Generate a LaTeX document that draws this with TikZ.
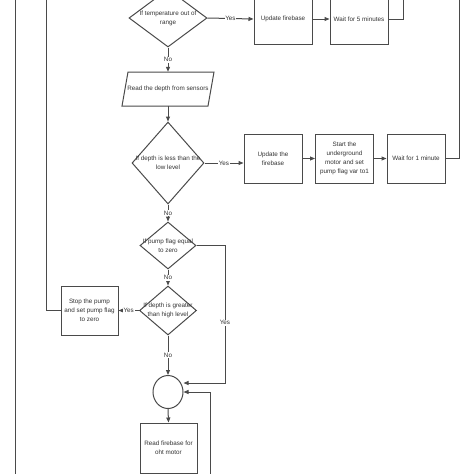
\documentclass[tikz,border=0pt]{standalone}
\usepackage{fontspec}
\setmainfont{Liberation Sans}
\usetikzlibrary{shapes.geometric,arrows.meta}
\definecolor{ln}{HTML}{4A4A4A}
\definecolor{tx}{HTML}{333333}
\tikzset{
  base/.style={draw=ln, line width=1pt, text=tx, font=\fontsize{6.3}{9.2}\selectfont, align=center, inner sep=0pt},
  boxn/.style={base, rectangle, minimum width=58pt, minimum height=49pt},
  dia/.style={base, diamond},
  circn/.style={base, ellipse, minimum width=30pt, minimum height=33pt},
  txt/.style={text=tx, font=\fontsize{6.3}{9.2}\selectfont, align=center, inner sep=0pt},
  lbl/.style={txt, fill=white, inner sep=0.8pt},
  conn/.style={draw=ln, line width=1pt},
  arr/.style={conn, -{Triangle[length=5pt,width=4pt]}},
}
\begin{document}
\begin{tikzpicture}[x=1pt,y=-1pt]
\useasboundingbox[fill=white] (0,0) rectangle (474,474);
% top row
\node[dia, minimum width=78pt, minimum height=58pt, label={[txt]center:If temperature out of\\range}] (d1) at (168,18) {};
\node[boxn, minimum height=50pt] (b1) at (283,19) {Update firebase};
\node[boxn, minimum height=50pt] (b2) at (359,19) {Wait for 5 minutes};
% parallelogram
\draw[conn] (128,72) -- (214,72) -- (208,106) -- (122,106) -- cycle;
\node[txt, minimum width=86pt, minimum height=34pt] (p1) at (168,89) {Read the depth from sensors};
% second row
\node[dia, minimum width=72pt, minimum height=82pt, label={[txt]center:If depth is less than the\\low level}] (d2) at (168,163) {};
\node[boxn] (b3) at (273,158.5) {Update the\\firebase};
\node[boxn] (b4) at (344.5,158.5) {Start the\\underground\\motor and set\\pump flag var to1};
\node[boxn] (b5) at (416,158.5) {Wait for 1 minute};
% lower part
\node[dia, minimum width=56pt, minimum height=47pt, label={[txt]center:If pump flag equal\\to zero}] (d3) at (168,245.5) {};
\node[dia, minimum width=57pt, minimum height=49pt, label={[txt]center:If depth is greater\\than high level}] (d4) at (168,310.5) {};
\node[boxn, minimum width=57pt] (b6) at (89.5,310.5) {Stop the pump\\and set pump flag\\to zero};
\node[circn] (c1) at (168,392) {};
\node[boxn, minimum width=57pt, minimum height=50pt] (b7) at (168.5,448) {Read firebase for\\oht motor};
% free ends
\coordinate (t1) at (403,-5);
\coordinate (t2) at (459,-5);
\coordinate (t3) at (46,-5);
\coordinate (j1) at (225,383);
\coordinate (j2) at (210,480);
\coordinate (l1) at (15,-5);
\coordinate (l2) at (15,480);
% connectors
\draw[arr] (d1.east) -- node[lbl]{Yes} (b1.west);
\draw[arr] (b1.east) -- (b2.west);
\draw[conn] (b2.east) -| (t1);
\draw[arr] (d1.south) -- node[lbl]{No} (p1.north);
\draw[arr] (p1.south) -- (d2.north);
\draw[arr] (d2.east) -- node[lbl, pos=0.5]{Yes} (d2.east -| b3.west);
\draw[arr] (b3.east) -- (b4.west);
\draw[arr] (b4.east) -- (b5.west);
\draw[conn] (b5.east) -| (t2);
\draw[arr] (d2.south) -- node[lbl]{No} (d3.north);
\draw[arr] (d3.east) -| node[lbl, pos=0.78]{Yes} (j1) -- (j1 -| c1.east);
\draw[arr] (d3.south) -- node[lbl]{No} (d4.north);
\draw[arr] (d4.west) -- node[lbl]{Yes} (b6.east);
\draw[conn] (b6.west) -| (t3);
\draw[arr] (d4.south) -- node[lbl]{No} (c1.north);
\draw[arr] (j2) |- (c1.east);
\draw[arr] (c1.south) -- (b7.north);
\draw[conn] (l1) -- (l2);
\end{tikzpicture}
\end{document}
